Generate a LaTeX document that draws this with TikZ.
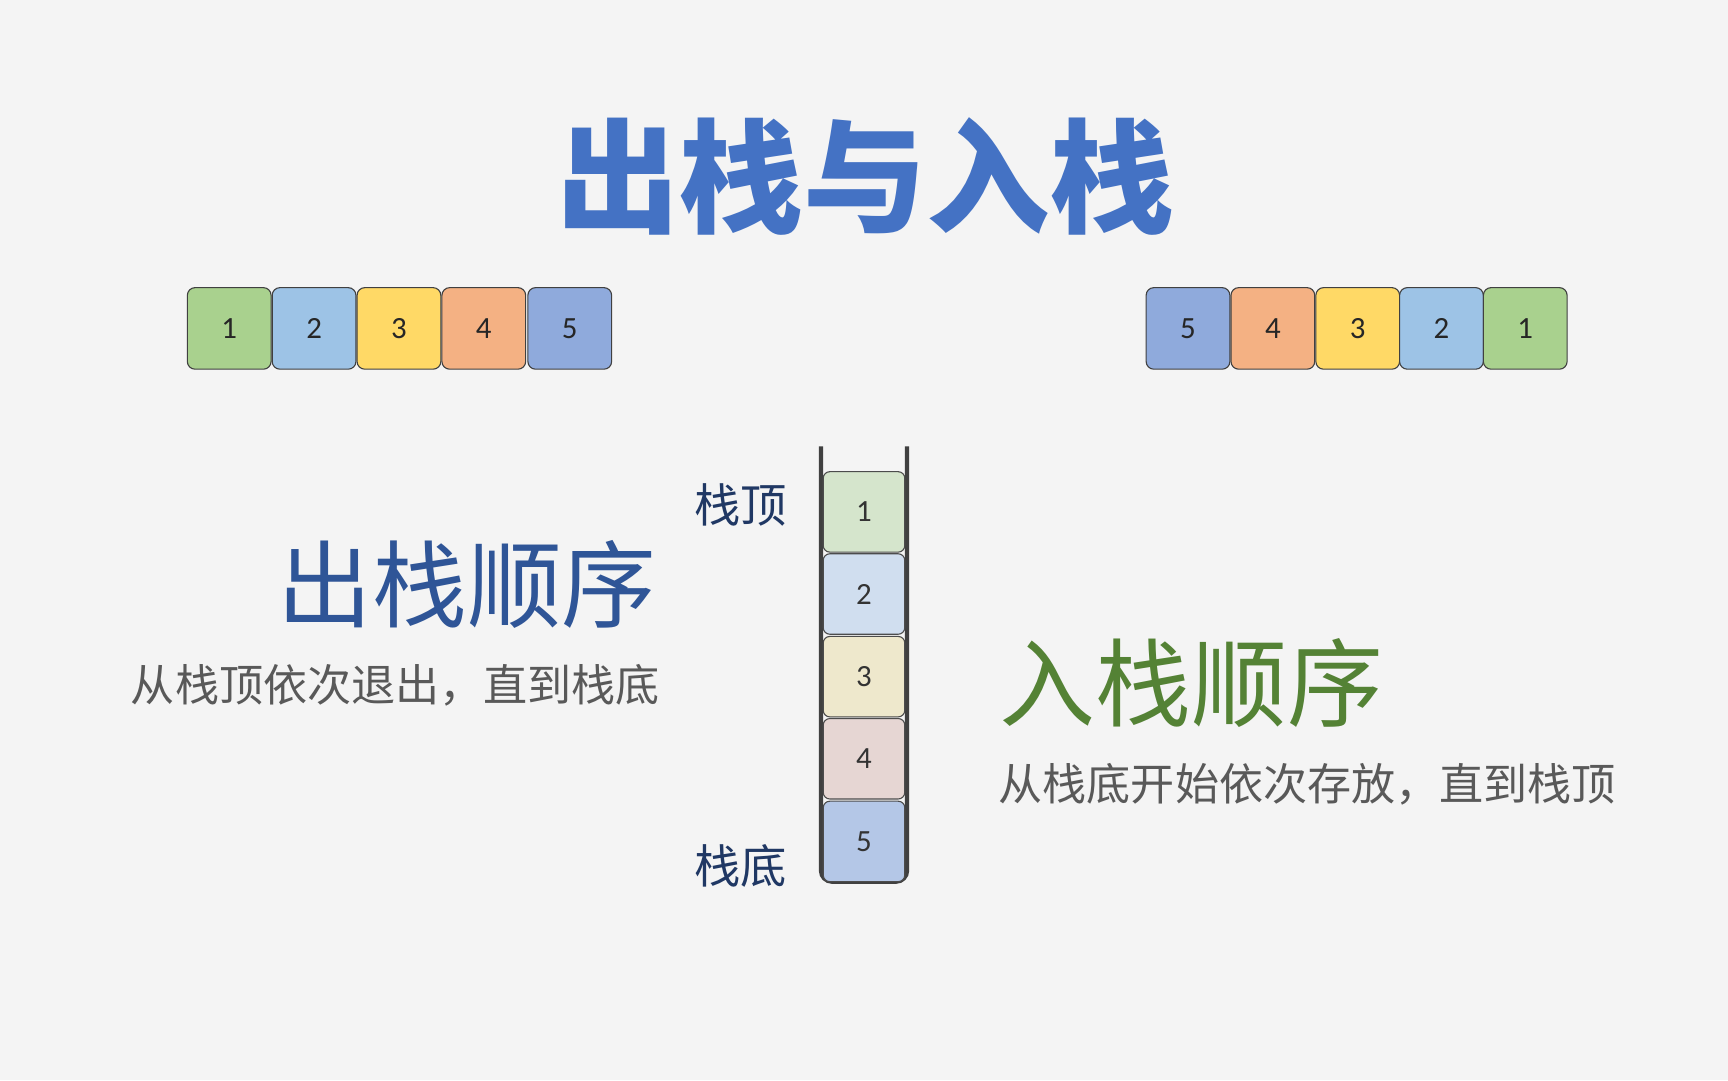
\documentclass[tikz,border=0pt]{standalone}
\usepackage{fontspec}
\setmainfont{Carlito}
\newfontfamily\cjk{Noto Sans CJK SC}
\usetikzlibrary{positioning}
\definecolor{bg}{HTML}{F4F4F4}
\definecolor{cg}{HTML}{A9D18E}
\definecolor{cb}{HTML}{9DC3E6}
\definecolor{cy}{HTML}{FFD966}
\definecolor{co}{HTML}{F4B183}
\definecolor{cp}{HTML}{8FAADC}
\definecolor{sg}{HTML}{D5E5CC}
\definecolor{sb}{HTML}{D0DEEF}
\definecolor{sy}{HTML}{EEE8CC}
\definecolor{so}{HTML}{E6D6D3}
\definecolor{sp}{HTML}{B4C7E7}
\definecolor{tblue}{HTML}{4472C4}
\definecolor{dblue}{HTML}{2F5597}
\definecolor{nblue}{HTML}{203864}
\definecolor{tgreen}{HTML}{548235}
\definecolor{tgray}{HTML}{595959}
\tikzset{
 cell/.style={draw=black!75,line width=1pt,rounded corners=7pt,minimum width=76pt,minimum height=74pt,inner sep=0pt,font=\fontsize{28}{30}\selectfont,text=black!85},
 scell/.style={draw=black!70,line width=1pt,rounded corners=6pt,minimum width=74pt,minimum height=73pt,inner sep=0pt,font=\fontsize{28}{30}\selectfont,text=black!80},
}
\begin{document}
\begin{tikzpicture}[x=1pt,y=-1pt]
\fill[bg] (0,0) rectangle (1568,980);
\useasboundingbox (0,0) rectangle (1568,980);
\node[font=\cjk\bfseries\fontsize{112}{120}\selectfont,text=tblue] (title) at (785,160) {出栈与入栈};
% left row
\node[cell,fill=cg] (l1) at (208,298) {1};
\node[cell,fill=cb] (l2) at (285,298) {2};
\node[cell,fill=cy] (l3) at (362,298) {3};
\node[cell,fill=co] (l4) at (439,298) {4};
\node[cell,fill=cp] (l5) at (517,298) {5};
% right row
\node[cell,fill=cp] (r5) at (1078,298) {5};
\node[cell,fill=co] (r4) at (1155,298) {4};
\node[cell,fill=cy] (r3) at (1232,298) {3};
\node[cell,fill=cb] (r2) at (1308,298) {2};
\node[cell,fill=cg] (r1) at (1384,298) {1};
% stack tube
\draw[line width=4pt,draw=black!75,rounded corners=10pt] (745,405) -- (745,800) -- (823,800) -- (823,405);
\fill[bg] (740,375) rectangle (828,404);
\node[scell,fill=sg] (s1) at (784,464.5) {1};
\node[scell,fill=sb] (s2) at (784,539) {2};
\node[scell,fill=sy] (s3) at (784,614) {3};
\node[scell,fill=so] (s4) at (784,688.5) {4};
\node[scell,fill=sp] (s5) at (784,763.5) {5};
\node[font=\cjk\fontsize{42}{44}\selectfont,text=nblue] (top) at (672,458) {栈顶};
\node[font=\cjk\fontsize{42}{44}\selectfont,text=nblue] (bot) at (672,786) {栈底};
% left texts
\node[anchor=east,inner sep=0pt,font=\cjk\fontsize{86}{90}\selectfont,text=dblue] (outt) at (596,530) {出栈顺序};
\node[anchor=east,inner sep=0pt,font=\cjk\fontsize{40}{44}\selectfont,text=tgray] (outs) at (599,622) {从栈顶依次退出，直到栈底};
% right texts
\node[anchor=west,inner sep=0pt,font=\cjk\fontsize{87}{90}\selectfont,text=tgreen] (int) at (907,620) {入栈顺序};
\node[anchor=west,inner sep=0pt,font=\cjk\fontsize{40}{44}\selectfont,text=tgray] (ins) at (906,712) {从栈底开始依次存放，直到栈顶};
\end{tikzpicture}
\end{document}
